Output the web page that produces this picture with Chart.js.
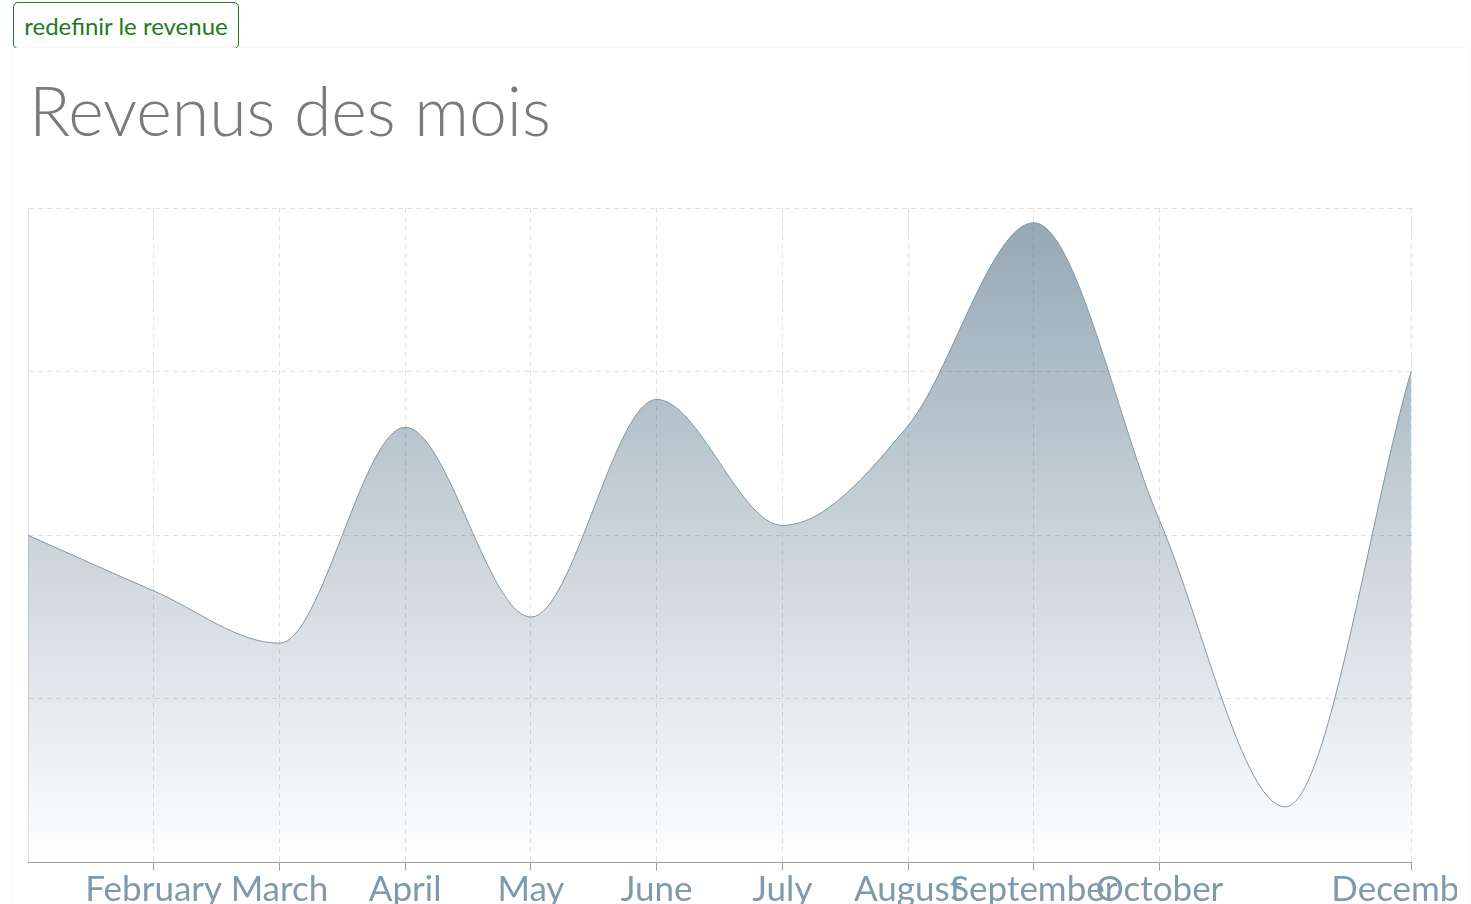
<!DOCTYPE html>
<html>
<head>
<meta charset="utf-8">
<script src="https://cdn.jsdelivr.net/npm/chart.js"></script>
<style>
  body { margin: 0; background: #fff; font-family: 'Lato', 'Noto Sans', sans-serif; }
  .btn {
    position: absolute; left: 13px; top: 2px; width: 226px; height: 47px;
    border: 1px solid #1f7a1f; border-radius: 5px; background: #fff;
    color: #1f7a1f; font-family: 'Lato', 'Noto Sans', sans-serif; font-size: 24px;
    padding: 0; box-sizing: border-box;
  }
  .card {
    position: absolute; left: 13px; top: 48px; width: 1455px; height: 900px;
    box-shadow: 0 0 3px rgba(0,0,0,0.08); background: #fff;
  }
  h1 {
    position: absolute; left: 16px; top: 21px; margin: 0;
    font-family: 'Lato', sans-serif; font-weight: 300; font-size: 68px; color: #7a7a7a;
  }
  #wrap { position: absolute; left: 15px; top: 152px; }
</style>
</head>
<body>
<button class="btn">redefinir le revenue</button>
<div class="card">
  <h1>Revenus des mois</h1>
  <div id="wrap"><canvas id="revenue-chart" width="1429" height="709"></canvas></div>
</div>
<script>
const months = ['January', 'February', 'March', 'April', 'May', 'June', 'July', 'August', 'September', 'October', 'November', 'December'];
const revenues = [2000, 1660, 1340, 2660, 1500, 2830, 2060, 2670, 3910, 2090, 340, 3000];
const hiddenLabels = ['January', 'November'];

const lineColor = '#7f97a6';

new Chart(document.getElementById('revenue-chart'), {
  type: 'line',
  data: {
    labels: months,
    datasets: [{
      data: revenues,
      borderColor: lineColor,
      borderWidth: 1,
      pointRadius: 0,
      cubicInterpolationMode: 'monotone',
      fill: true,
      backgroundColor: function (ctx) {
        const area = ctx.chart.chartArea;
        if (!area) return 'rgba(50,85,110,0.3)';
        const g = ctx.chart.ctx.createLinearGradient(0, area.top, 0, area.bottom);
        g.addColorStop(0, 'rgba(50,85,110,0.52)');
        g.addColorStop(1, 'rgba(50,85,110,0)');
        return g;
      }
    }]
  },
  options: {
    responsive: false,
    animation: false,
    layout: { padding: { top: 8, left: 0, right: 46 } },
    plugins: { legend: { display: false }, tooltip: { enabled: false } },
    scales: {
      x: {
        afterFit: function (scale) { scale.paddingLeft = 0; scale.paddingRight = 0; },
        grid: {
          color: 'rgba(0,0,0,0.12)',
          borderDash: [5, 4],
          tickColor: '#8c9fab',
          tickLength: 8
        },
        border: { display: true, color: '#8c9fab', dash: [5, 4] },
        ticks: {
          autoSkip: false,
          maxRotation: 0,
          padding: 0,
          color: '#7f9aab',
          font: { family: "'Lato', 'Noto Sans', sans-serif", size: 35, lineHeight: 1.1 },
          callback: function (value) {
            const label = this.getLabelForValue(value);
            return hiddenLabels.includes(label) ? null : label;
          }
        }
      },
      y: {
        min: 0,
        max: 4000,
        ticks: { display: false, stepSize: 1000 },
        grid: { color: 'rgba(0,0,0,0.12)', borderDash: [5, 4], drawTicks: false },
        border: { display: true, color: 'rgba(0,0,0,0.12)', dash: [5, 4] }
      }
    }
  }
});
</script>
</body>
</html>
